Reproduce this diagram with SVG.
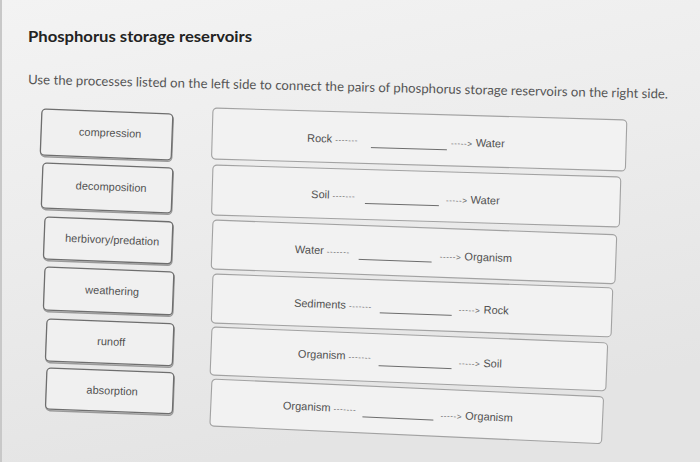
<svg xmlns="http://www.w3.org/2000/svg" width="700" height="462" viewBox="0 0 700 462">
<defs>
<linearGradient id="bg" x1="0" y1="0" x2="0.3" y2="1">
<stop offset="0" stop-color="#f3f3f3"/>
<stop offset="0.5" stop-color="#ececec"/>
<stop offset="1" stop-color="#e4e4e4"/>
</linearGradient>
<style>
.t{font-family:"Liberation Sans",Arial,sans-serif;fill:#505050;font-size:11px}
.d{font-size:8px;fill:#6a6a6a;letter-spacing:0.6px}
.lb{fill:#f0f0f0;stroke:#6e6e6e;stroke-width:1.3}
.ls{fill:none;stroke:#9a9a9a;stroke-width:1.5}
.rb{fill:#f2f2f2;stroke:#a2a2a2;stroke-width:1.1}
.bl{stroke:#606060;stroke-width:0.9}
</style>
</defs>
<rect width="700" height="462" fill="url(#bg)"/>
<line x1="1" y1="0" x2="1" y2="462" stroke="#c8c8c8" stroke-width="2"/>
<text x="28" y="42" font-family="Lato,'Liberation Sans',sans-serif" font-weight="bold" font-size="15" fill="#222" textLength="224" lengthAdjust="spacingAndGlyphs">Phosphorus storage reservoirs</text>
<text x="28" y="84" transform="rotate(1.3 28 84)" font-family="Lato,'Liberation Sans',sans-serif" font-size="13" fill="#555" textLength="640" lengthAdjust="spacingAndGlyphs">Use the processes listed on the left side to connect the pairs of phosphorus storage reservoirs on the right side.</text>

<g id="process-compression" transform="translate(42,109) rotate(2.2)">
<rect class="ls" x="0.5" y="1.5" width="131" height="46" rx="4"/>
<rect class="lb" x="0" y="0" width="131" height="46" rx="4"/>
<text class="t" x="69" y="25" text-anchor="middle">compression</text>
</g>
<g id="process-decomposition" transform="translate(43,163) rotate(2.2)">
<rect class="ls" x="0.5" y="1.5" width="130" height="45" rx="4"/>
<rect class="lb" x="0" y="0" width="130" height="45" rx="4"/>
<text class="t" x="69" y="25" text-anchor="middle">decomposition</text>
</g>
<g id="process-herbivory" transform="translate(45,217) rotate(2.2)">
<rect class="ls" x="0.5" y="1.5" width="128" height="42" rx="4"/>
<rect class="lb" x="0" y="0" width="128" height="42" rx="4"/>
<text class="t" x="68" y="24" text-anchor="middle">herbivory/predation</text>
</g>
<g id="process-weathering" transform="translate(45,267) rotate(2.2)">
<rect class="ls" x="0.5" y="1.5" width="129" height="43" rx="4"/>
<rect class="lb" x="0" y="0" width="129" height="43" rx="4"/>
<text class="t" x="68" y="25" text-anchor="middle">weathering</text>
</g>
<g id="process-runoff" transform="translate(47,319) rotate(2.2)">
<rect class="ls" x="0.5" y="1.5" width="127" height="42" rx="4"/>
<rect class="lb" x="0" y="0" width="127" height="42" rx="4"/>
<text class="t" x="65" y="24" text-anchor="middle">runoff</text>
</g>
<g id="process-absorption" transform="translate(47,368) rotate(2.2)">
<rect class="ls" x="0.5" y="1.5" width="127" height="41" rx="4"/>
<rect class="lb" x="0" y="0" width="127" height="41" rx="4"/>
<text class="t" x="66" y="24" text-anchor="middle">absorption</text>
</g>

<g id="pair-rock-water" transform="translate(213,108) rotate(1.66)">
<rect class="rb" x="0" y="0" width="414" height="51" rx="4"/>
<text class="t" x="95" y="31">Rock <tspan class="d">-------</tspan></text>
<line class="bl" x1="159" y1="35" x2="235" y2="35"/>
<text class="t" x="239" y="31"><tspan class="d">-----&gt;</tspan> Water</text>
</g>
<g id="pair-soil-water" transform="translate(213,165) rotate(1.69)">
<rect class="rb" x="0" y="0" width="408" height="50" rx="4"/>
<text class="t" x="99" y="30">Soil <tspan class="d">-------</tspan></text>
<line class="bl" x1="153" y1="34" x2="227" y2="34"/>
<text class="t" x="234" y="31"><tspan class="d">-----&gt;</tspan> Water</text>
</g>
<g id="pair-water-organism" transform="translate(213,220) rotate(2.1)">
<rect class="rb" x="0" y="0" width="404" height="49" rx="4"/>
<text class="t" x="83" y="30">Water <tspan class="d">-------</tspan></text>
<line class="bl" x1="147" y1="34" x2="220" y2="34"/>
<text class="t" x="228" y="31"><tspan class="d">-----&gt;</tspan> Organism</text>
</g>
<g id="pair-sediments-rock" transform="translate(213,274) rotate(2.0)">
<rect class="rb" x="0" y="0" width="400" height="49" rx="4"/>
<text class="t" x="82" y="30">Sediments <tspan class="d">-------</tspan></text>
<line class="bl" x1="168" y1="33" x2="240" y2="33"/>
<text class="t" x="247" y="30"><tspan class="d">-----&gt;</tspan> Rock</text>
</g>
<g id="pair-organism-soil" transform="translate(212,327) rotate(2.3)">
<rect class="rb" x="0" y="0" width="396" height="48" rx="4"/>
<text class="t" x="87" y="27">Organism <tspan class="d">-------</tspan></text>
<line class="bl" x1="168" y1="32" x2="241" y2="32"/>
<text class="t" x="248" y="29"><tspan class="d">-----&gt;</tspan> Soil</text>
</g>
<g id="pair-organism-organism" transform="translate(212,379) rotate(2.6)">
<rect class="rb" x="0" y="0" width="392" height="47" rx="4"/>
<text class="t" x="72" y="27">Organism <tspan class="d">-------</tspan></text>
<line class="bl" x1="152" y1="31" x2="223" y2="31"/>
<text class="t" x="230" y="29"><tspan class="d">-----&gt;</tspan> Organism</text>
</g>
<g id="connectors"/>
</svg>
